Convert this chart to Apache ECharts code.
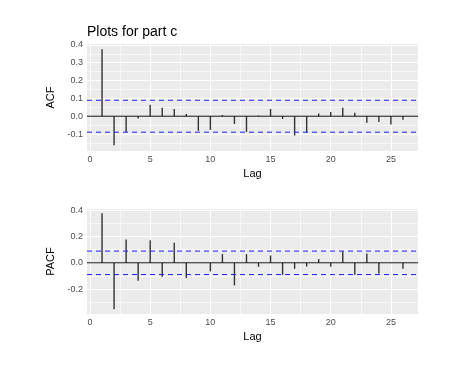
<!DOCTYPE html>
<html>
<head>
<meta charset="utf-8">
<script src="https://cdn.jsdelivr.net/npm/echarts@6/dist/echarts.min.js"></script>
<style>
html,body{margin:0;padding:0;background:#fff;}
#chart{width:463px;height:367px;}
</style>
</head>
<body>
<div id="chart"></div>
<script>
var titleText = 'Plots for part c';
var lags = [1,2,3,4,5,6,7,8,9,10,11,12,13,14,15,16,17,18,19,20,21,22,23,24,25,26];
var acfValues = [0.376,-0.163,-0.088,-0.013,0.064,0.047,0.041,0.013,-0.082,-0.077,0.007,-0.043,-0.088,0.004,0.041,-0.015,-0.108,-0.090,0.015,0.024,0.047,0.019,-0.036,-0.032,-0.047,-0.020];
var pacfValues = [0.377,-0.354,0.177,-0.137,0.172,-0.106,0.152,-0.116,0.002,-0.066,0.066,-0.172,0.066,-0.030,0.056,-0.091,-0.046,-0.028,0.030,-0.030,0.086,-0.091,0.071,-0.081,0.001,-0.046];
var ciBound = 0.0895;
var refLevels = [0, ciBound, -ciBound];
var xMajorTicks = [0,5,10,15,20,25];
var xMinorTicks = [2.5,7.5,12.5,17.5,22.5];
var acfYMajor = [-0.1,0,0.1,0.2,0.3,0.4];
var acfYMinor = [-0.15,-0.05,0.05,0.15,0.25,0.35];
var pacfYMajor = [-0.2,0,0.2,0.4];
var pacfYMinor = [-0.3,-0.1,0.1,0.3];

var chart = echarts.init(document.getElementById('chart'), null, {renderer:'canvas'});

function pairs(xs, ys){ return xs.map(function(x,i){ return [x, ys[i]]; }); }

function gridLineSeries(idx, yMajor, yMinor){
  var lines = [];
  xMinorTicks.forEach(function(v){ lines.push({xAxis:v, lineStyle:{color:'#ffffff', width:0.6, type:'solid'}}); });
  yMinor.forEach(function(v){ lines.push({yAxis:v, lineStyle:{color:'#ffffff', width:0.6, type:'solid'}}); });
  xMajorTicks.forEach(function(v){ lines.push({xAxis:v, lineStyle:{color:'#ffffff', width:1.1, type:'solid'}}); });
  yMajor.forEach(function(v){ lines.push({yAxis:v, lineStyle:{color:'#ffffff', width:1.1, type:'solid'}}); });
  return {
    type:'line', xAxisIndex:idx, yAxisIndex:idx, data:[[0,0]], z:1, silent:true,
    showSymbol:false, lineStyle:{opacity:0},
    markLine:{z:1, symbol:['none','none'], silent:true, animation:false, label:{show:false},
      data:lines}
  };
}

function stemSeries(idx, vals){
  return {
    type:'custom', xAxisIndex:idx, yAxisIndex:idx, z:6, silent:true,
    data: pairs(lags, vals),
    renderItem:function(params, api){
      var p0 = api.coord([api.value(0), 0]);
      var p1 = api.coord([api.value(0), api.value(1)]);
      return {type:'line', shape:{x1:p0[0], y1:p0[1], x2:p1[0], y2:p1[1]},
        style:{stroke:'#333333', lineWidth:1.4}};
    }
  };
}

function refLineSeries(idx){
  return {
    type:'custom', xAxisIndex:idx, yAxisIndex:idx, z:7, silent:true,
    data: refLevels.map(function(v){ return [0, v]; }),
    renderItem:function(params, api){
      var cs = params.coordSys;
      var y = api.coord([0, api.value(1)])[1];
      var isZero = api.value(1) === 0;
      return {type:'line', shape:{x1:cs.x, y1:y, x2:cs.x + cs.width, y2:y},
        style: isZero ? {stroke:'#111111', lineWidth:1}
                      : {stroke:'#1f1fff', lineWidth:1, lineDash:[5,4]}};
    }
  };
}

var labelFont = {color:'#4D4D4D', fontSize:9, fontFamily:'Liberation Sans, Arial, sans-serif'};
var nameFont = {color:'#000000', fontSize:11, fontFamily:'Liberation Sans, Arial, sans-serif'};

function xAxisCfg(idx){
  return {
    type:'value', gridIndex:idx, min:-0.25, max:27.25,
    name:'Lag', nameLocation:'middle', nameGap:17, nameTextStyle:nameFont,
    axisLine:{show:false}, splitLine:{show:false},
    axisTick:{show:true, length:3, customValues:xMajorTicks, lineStyle:{color:'#333333', width:1}},
    axisLabel:Object.assign({customValues:xMajorTicks, margin:4, formatter:function(v){return String(v);}}, labelFont)
  };
}
function yAxisCfg(idx, name, min, max, ticks){
  return {
    type:'value', gridIndex:idx, min:min, max:max,
    name:name, nameLocation:'middle', nameGap:24, nameRotate:90, nameTextStyle:nameFont,
    axisLine:{show:false}, splitLine:{show:false},
    axisTick:{show:true, length:3, customValues:ticks, lineStyle:{color:'#333333', width:1}},
    axisLabel:Object.assign({customValues:ticks, margin:4, formatter:function(v){return v.toFixed(1);}}, labelFont)
  };
}

chart.setOption({
  animation:false,
  backgroundColor:'#ffffff',
  title:{text:titleText, left:87, top:25, padding:0,
    textStyle:{color:'#000000', fontSize:14, fontWeight:'normal', fontFamily:'Liberation Sans, Arial, sans-serif'}},
  grid:[
    {left:87, top:44, width:331, height:107, show:true, backgroundColor:'#EBEBEB', borderWidth:0},
    {left:87, top:209, width:331, height:105, show:true, backgroundColor:'#EBEBEB', borderWidth:0}
  ],
  xAxis:[xAxisCfg(0), xAxisCfg(1)],
  yAxis:[yAxisCfg(0,'ACF',-0.195,0.405,acfYMajor), yAxisCfg(1,'PACF',-0.39,0.41,pacfYMajor)],
  series:[
    gridLineSeries(0, acfYMajor, acfYMinor),
    gridLineSeries(1, pacfYMajor, pacfYMinor),
    stemSeries(0, acfValues),
    stemSeries(1, pacfValues),
    refLineSeries(0),
    refLineSeries(1)
  ]
});
</script>
</body>
</html>
